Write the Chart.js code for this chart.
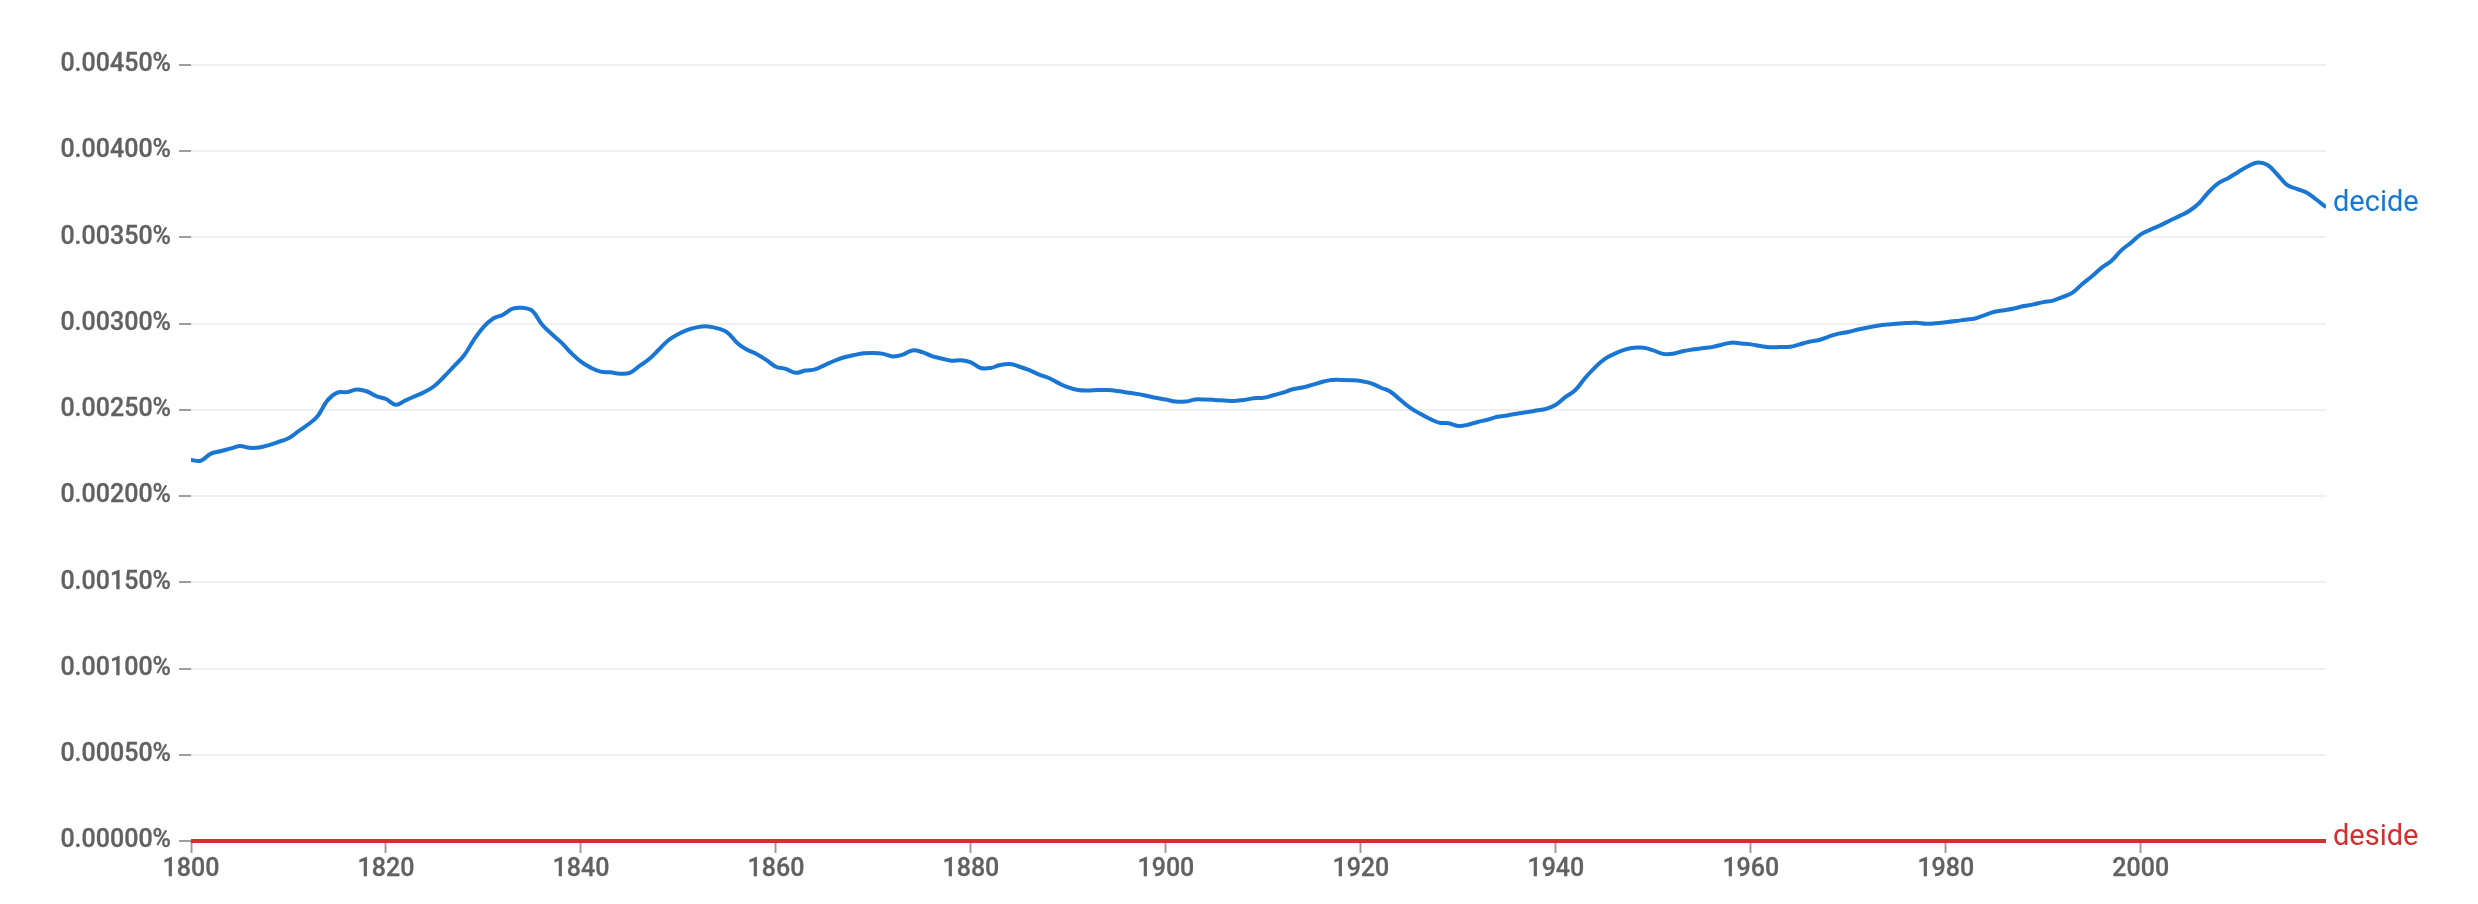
<!DOCTYPE html>
<html>
<head>
<meta charset="utf-8">
<script src="https://cdn.jsdelivr.net/npm/chart.js@4.4.1/dist/chart.umd.min.js"></script>
<style>
  html, body { margin: 0; padding: 0; background: #ffffff; }
  #wrap { width: 2478px; height: 904px; }
  canvas { display: block; }
</style>
</head>
<body>
<div id="wrap"><canvas id="c" width="2478" height="904" style="width:2478px;height:904px"></canvas></div>
<script>
// ---- data ----
const startYear = 1800;
const endYear = 2019;
const years = Array.from({ length: endYear - startYear + 1 }, (_, i) => startYear + i);

const seriesNames = ["decide", "deside"];

// frequency of "decide" (in %), one value per year 1800..2019
const decide = [
  0.002209, 0.002205, 0.002245, 0.002260, 0.002275, 0.002290, 0.002280, 0.002282, 0.002296, 0.002315,
  0.002335, 0.002375, 0.002415, 0.002465, 0.002555, 0.002600, 0.002603, 0.002618, 0.002608, 0.002580,
  0.002563, 0.002530, 0.002555, 0.002580, 0.002605, 0.002640, 0.002695, 0.002755, 0.002815, 0.002905,
  0.002980, 0.003030, 0.003052, 0.003087, 0.003092, 0.003075, 0.002995, 0.002940, 0.002890, 0.002830,
  0.002780, 0.002745, 0.002722, 0.002718, 0.002710, 0.002715, 0.002755, 0.002795, 0.002850, 0.002905,
  0.002940, 0.002965, 0.002980, 0.002984, 0.002973, 0.002950, 0.002890, 0.002850, 0.002824, 0.002790,
  0.002750, 0.002738, 0.002715, 0.002728, 0.002735, 0.002760, 0.002785, 0.002805, 0.002818, 0.002828,
  0.002830, 0.002825, 0.002810, 0.002820, 0.002845, 0.002835, 0.002812, 0.002798, 0.002785, 0.002788,
  0.002775, 0.002743, 0.002743, 0.002760, 0.002766, 0.002750, 0.002730, 0.002705, 0.002685, 0.002655,
  0.002630, 0.002615, 0.002612, 0.002615, 0.002615, 0.002610, 0.002601, 0.002593, 0.002582, 0.002570,
  0.002560, 0.002548, 0.002548, 0.002560, 0.002560, 0.002558, 0.002555, 0.002552, 0.002557, 0.002568,
  0.002570, 0.002585, 0.002600, 0.002620, 0.002630, 0.002645, 0.002662, 0.002673, 0.002674, 0.002672,
  0.002667, 0.002655, 0.002630, 0.002607, 0.002560, 0.002515, 0.002480, 0.002450, 0.002426, 0.002422,
  0.002407, 0.002414, 0.002430, 0.002443, 0.002460, 0.002468, 0.002478, 0.002486, 0.002496, 0.002506,
  0.002530, 0.002575, 0.002615, 0.002685, 0.002745, 0.002795, 0.002825, 0.002848, 0.002860, 0.002860,
  0.002845, 0.002825, 0.002825, 0.002840, 0.002850, 0.002858, 0.002864, 0.002878, 0.002890, 0.002885,
  0.002880, 0.002870, 0.002863, 0.002865, 0.002866, 0.002880, 0.002895, 0.002905, 0.002925, 0.002942,
  0.002952, 0.002966, 0.002978, 0.002988, 0.002995, 0.003000, 0.003004, 0.003005, 0.002999, 0.003002,
  0.003008, 0.003015, 0.003023, 0.003030, 0.003050, 0.003069, 0.003078, 0.003088, 0.003102, 0.003112,
  0.003125, 0.003134, 0.003155, 0.003180, 0.003230, 0.003275, 0.003325, 0.003365, 0.003425, 0.003470,
  0.003518, 0.003545, 0.003570, 0.003598, 0.003625, 0.003655, 0.003700, 0.003765, 0.003816, 0.003845,
  0.003880, 0.003913, 0.003934, 0.003920, 0.003865, 0.003805, 0.003782, 0.003760, 0.003720, 0.003675
];

// frequency of "deside" (in %), read per decade (flat at zero)
const desideYears = [1800, 1810, 1820, 1830, 1840, 1850, 1860, 1870, 1880, 1890, 1900,
                     1910, 1920, 1930, 1940, 1950, 1960, 1970, 1980, 1990, 2000, 2010, 2019];
const deside = [0, 0, 0, 0, 0, 0, 0, 0, 0, 0, 0,
                0, 0, 0, 0, 0, 0, 0, 0, 0, 0, 0, 0];

const yTicks = [0, 0.0005, 0.001, 0.0015, 0.002, 0.0025, 0.003, 0.0035, 0.004, 0.0045];
const xTicks = [1800, 1820, 1840, 1860, 1880, 1900, 1920, 1940, 1960, 1980, 2000];

// ---- styling ----
const BLUE = "#1976d2";
const RED = "#d32f2f";
const FONT = "Roboto, 'Noto Sans', sans-serif";
const TICK_TEXT = "#616161";

const endLabels = {
  id: "endLabels",
  afterDatasetsDraw(chart) {
    const ctx = chart.ctx;
    ctx.save();
    chart.data.datasets.forEach((ds, i) => {
      const meta = chart.getDatasetMeta(i);
      const pt = meta.data[meta.data.length - 1];
      if (!pt) return;
      ctx.font = "29px " + FONT;
      ctx.fillStyle = ds.borderColor;
      ctx.textAlign = "left";
      ctx.textBaseline = "alphabetic";
      ctx.fillText(ds.label, pt.x + 7, pt.y + 4);
    });
    ctx.restore();
  }
};

new Chart(document.getElementById("c"), {
  type: "line",
  data: {
    datasets: [
      {
        label: seriesNames[0],
        data: years.map((y, i) => ({ x: y, y: decide[i] })),
        borderColor: BLUE,
        backgroundColor: BLUE,
        borderWidth: 4,
        pointRadius: 0,
        tension: 0.4,
        fill: false
      },
      {
        label: seriesNames[1],
        data: desideYears.map((y, i) => ({ x: y, y: deside[i] })),
        borderColor: RED,
        backgroundColor: RED,
        borderWidth: 4,
        pointRadius: 0,
        tension: 0,
        fill: false,
        clip: false
      }
    ]
  },
  options: {
    responsive: false,
    animation: false,
    devicePixelRatio: 1,
    layout: { padding: { left: 0, right: 152, top: 65, bottom: 0 } },
    plugins: {
      legend: { display: false },
      tooltip: { enabled: false },
      title: { display: false }
    },
    scales: {
      x: {
        type: "linear",
        min: startYear,
        max: endYear,
        afterBuildTicks(scale) {
          scale.ticks = xTicks.map(v => ({ value: v }));
        },
        afterFit(scale) { scale.height = 63; },
        border: { display: false },
        grid: {
          drawOnChartArea: false,
          drawTicks: true,
          tickLength: 12,
          tickWidth: 2,
          tickColor: "#9e9e9e",
          color: "#9e9e9e"
        },
        ticks: {
          color: TICK_TEXT,
          font: { family: FONT, size: 25, weight: "500" },
          textStrokeColor: TICK_TEXT,
          textStrokeWidth: 0.3,
          padding: 2,
          maxRotation: 0,
          autoSkip: false,
          callback: (v) => String(v)
        }
      },
      y: {
        type: "linear",
        min: 0,
        max: 0.0045,
        afterBuildTicks(scale) {
          scale.ticks = yTicks.map(v => ({ value: v }));
        },
        afterFit(scale) { scale.width = 191; },
        border: { display: false },
        grid: {
          color: "#f0f0f0",
          lineWidth: 2,
          drawTicks: true,
          tickLength: 12,
          tickWidth: 2,
          tickColor: "#9e9e9e"
        },
        ticks: {
          color: TICK_TEXT,
          font: { family: FONT, size: 25, weight: "500" },
          textStrokeColor: TICK_TEXT,
          textStrokeWidth: 0.3,
          padding: 8,
          callback: (v) => Number(v).toFixed(5) + "%"
        }
      }
    }
  },
  plugins: [endLabels]
});
</script>
</body>
</html>
